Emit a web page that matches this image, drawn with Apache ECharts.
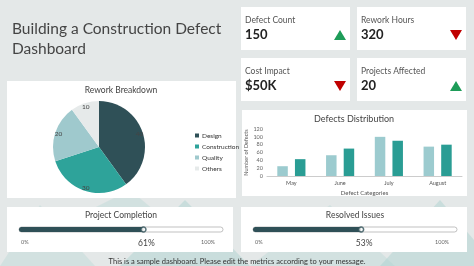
<!DOCTYPE html>
<html>
<head>
<meta charset="utf-8">
<script src="https://cdn.jsdelivr.net/npm/echarts@6/dist/echarts.min.js"></script>
<style>
  html, body { margin: 0; padding: 0; background: #e4e8e8; }
  #main { width: 474px; height: 266px; }
</style>
</head>
<body>
<div id="main"></div>
<script>
// data
var kpiLabels = ['Defect Count', 'Rework Hours', 'Cost Impact', 'Projects Affected'];
var kpiValues = ['150', '320', '$50K', '20'];
var kpiUp = [true, false, false, true];

var pieNames = ['Design', 'Construction', 'Quality', 'Others'];
var pieValues = [40, 30, 20, 10];

var months = ['May', 'June', 'July', 'August'];
var seriesA = [25, 53, 100, 75];
var seriesB = [43, 70, 90, 80];
var yTicks = [0, 20, 40, 60, 80, 100, 120];

var progressNames = ['Project Completion', 'Resolved Issues'];
var progressValues = [61, 53];

var font = 'Lato, "Open Sans", sans-serif';
var dark = '#2f5057';
var pieColors = [dark, '#2ea39a', '#9fc9cd', '#e6eaea'];

var chart = echarts.init(document.getElementById('main'));

var graphic = [];
// faint background triangles
var tris = [
  [[0, 266], [40, 205], [95, 266]],
  [[120, 266], [185, 200], [250, 266]],
  [[250, 266], [330, 205], [395, 266]],
  [[380, 266], [440, 200], [474, 240], [474, 266]],
  [[90, 210], [130, 190], [160, 215]]
];
tris.forEach(function (p, i) {
  graphic.push({ type: 'polygon', z: -10, shape: { points: p }, style: { fill: i % 2 ? '#a9d0cf' : '#bcdad8', opacity: 0.45 }, silent: true });
});

// title
graphic.push({ type: 'text', left: 12, top: 19, style: { text: 'Building a Construction Defect\nDashboard', font: '15.5px ' + font, fill: '#444', lineHeight: 20 } });

// KPI cards
var cardPos = [[241, 7], [357, 7], [241, 58], [357, 58]];
cardPos.forEach(function (p, i) {
  graphic.push({ type: 'rect', z: -1, shape: { x: p[0], y: p[1], width: 109, height: 43 }, style: { fill: '#fff' } });
  graphic.push({ type: 'text', x: p[0] + 4, y: p[1] + 13, style: { text: kpiLabels[i], font: '8.5px ' + font, fill: '#555', verticalAlign: 'middle' } });
  graphic.push({ type: 'text', x: p[0] + 4, y: p[1] + 28, style: { text: kpiValues[i], font: 'bold 13px ' + font, fill: '#222', verticalAlign: 'middle' } });
  var cx = p[0] + 99, cy = p[1] + 28;
  var pts = kpiUp[i] ? [[cx - 6, cy + 5], [cx + 6, cy + 5], [cx, cy - 5]] : [[cx - 6, cy - 5], [cx + 6, cy - 5], [cx, cy + 5]];
  graphic.push({ type: 'polygon', shape: { points: pts }, style: { fill: kpiUp[i] ? '#1d9c58' : '#c00000' } });
});

// pie panel and bar panel
graphic.push({ type: 'rect', z: -1, shape: { x: 7, y: 81, width: 229, height: 117 }, style: { fill: '#fff' } });
graphic.push({ type: 'text', x: 121, y: 90, style: { text: 'Rework Breakdown', font: '8.5px ' + font, fill: '#444', align: 'center', verticalAlign: 'middle' } });
graphic.push({ type: 'rect', z: -1, shape: { x: 242, y: 110, width: 225, height: 86 }, style: { fill: '#fff' } });
graphic.push({ type: 'text', x: 354, y: 119, style: { text: 'Defects Distribution', font: '9px ' + font, fill: '#444', align: 'center', verticalAlign: 'middle' } });

// progress panels
var progPanels = [[7, 207], [241, 207]];
progPanels.forEach(function (p, i) {
  graphic.push({ type: 'rect', z: -1, shape: { x: p[0], y: p[1], width: 226, height: 45 }, style: { fill: '#fff' } });
  graphic.push({ type: 'text', x: p[0] + 114, y: p[1] + 8, style: { text: progressNames[i], font: '8.5px ' + font, fill: '#444', align: 'center', verticalAlign: 'middle' } });
  graphic.push({ type: 'text', x: p[0] + 14, y: p[1] + 35, style: { text: '0%', font: '5.5px ' + font, fill: '#666', verticalAlign: 'middle' } });
  graphic.push({ type: 'text', x: p[0] + 208, y: p[1] + 35, style: { text: '100%', font: '5.5px ' + font, fill: '#666', align: 'right', verticalAlign: 'middle' } });
  graphic.push({ type: 'text', x: p[0] + 12 + progressValues[i] * 2.04 + 3, y: p[1] + 36, style: { text: progressValues[i] + '%', font: '8.5px ' + font, fill: '#444', align: 'center', verticalAlign: 'middle' } });
});

graphic.push({ type: 'text', x: 237, y: 262, style: { text: 'This is a sample dashboard. Please edit the metrics according to your message.', font: '7.5px ' + font, fill: '#333', align: 'center', verticalAlign: 'middle' } });

var pieData = pieNames.map(function (n, i) {
  return { name: n, value: pieValues[i], itemStyle: { color: pieColors[i] } };
});

var progGrids = [
  { left: 19, width: 204, top: 227, height: 5 },
  { left: 253, width: 204, top: 227, height: 5 }
];

var option = {
  animation: false,
  textStyle: { fontFamily: font },
  graphic: graphic,
  legend: {
    data: pieNames,
    orient: 'vertical',
    left: 190,
    top: 127,
    itemWidth: 4,
    itemHeight: 4,
    itemGap: 4,
    icon: 'rect',
    textStyle: { fontSize: 6.5, color: '#333', padding: [0, 0, 0, -2] }
  },
  grid: [
    { left: 267, right: 12, top: 129, bottom: 90 },
    progGrids[0],
    progGrids[1]
  ],
  xAxis: [
    {
      gridIndex: 0, type: 'category', data: months,
      name: 'Defect Categories', nameLocation: 'middle', nameGap: 14,
      nameTextStyle: { fontSize: 6, color: '#555' },
      axisLine: { lineStyle: { color: '#ccc' } },
      axisTick: { lineStyle: { color: '#ccc' } },
      axisLabel: { fontSize: 5.5, color: '#555', margin: 4 }
    },
    { gridIndex: 1, type: 'value', min: 0, max: 100, show: false },
    { gridIndex: 2, type: 'value', min: 0, max: 100, show: false }
  ],
  yAxis: [
    {
      gridIndex: 0, type: 'value', min: 0, max: 120, interval: 20,
      name: 'Number of Defects', nameLocation: 'middle', nameGap: 12, nameRotate: 90,
      nameTextStyle: { fontSize: 5.5, color: '#555' },
      axisLine: { show: false }, axisTick: { show: false },
      splitLine: { show: false },
      axisLabel: { fontSize: 5.5, color: '#666', margin: 4, formatter: function (v) { return yTicks.indexOf(v) >= 0 ? v : ''; } }
    },
    { gridIndex: 1, type: 'category', data: [''], show: false },
    { gridIndex: 2, type: 'category', data: [''], show: false }
  ],
  series: [
    {
      type: 'pie', center: [99, 147], radius: 46, startAngle: 90, clockwise: true,
      data: pieData, label: { show: false }, labelLine: { show: false },
      itemStyle: { borderColor: '#fff', borderWidth: 0 }
    },
    {
      type: 'pie', center: [99, 147], radius: [33, 46], startAngle: 90, clockwise: true,
      silent: true, legendHoverLink: false,
      data: pieNames.map(function (n, i) { return { name: n, value: pieValues[i], itemStyle: { color: 'rgba(0,0,0,0)' } }; }),
      label: { show: true, position: 'inside', formatter: '{c}', fontSize: 6.5, color: '#444' },
      labelLine: { show: false }
    },
    {
      type: 'bar', xAxisIndex: 0, yAxisIndex: 0, data: seriesA,
      barWidth: 10.5, barGap: '68%', itemStyle: { color: '#9ccbcf' }
    },
    {
      type: 'bar', xAxisIndex: 0, yAxisIndex: 0, data: seriesB,
      barWidth: 10.5, itemStyle: { color: '#2a9d94' }
    }
  ]
};

progressValues.forEach(function (v, i) {
  option.series.push({
    type: 'bar', xAxisIndex: i + 1, yAxisIndex: i + 1, data: [v],
    barWidth: 5, showBackground: true,
    backgroundStyle: { color: '#fff', borderColor: '#999', borderWidth: 0.6, borderRadius: 3 },
    itemStyle: { color: dark, borderRadius: [3, 0, 0, 3] }
  });
  option.series.push({
    type: 'scatter', xAxisIndex: i + 1, yAxisIndex: i + 1, data: [[v, 0]],
    symbolSize: 5, itemStyle: { color: '#fff', borderColor: dark, borderWidth: 1.5 }, z: 5
  });
});

chart.setOption(option);
</script>
</body>
</html>
